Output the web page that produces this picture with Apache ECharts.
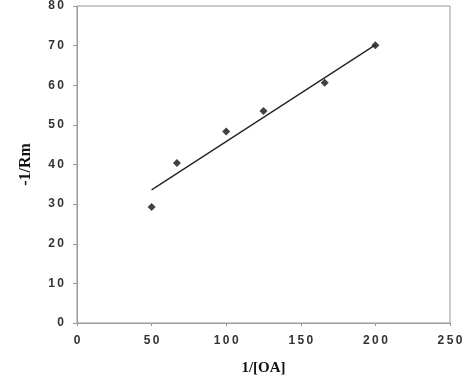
<!DOCTYPE html>
<html>
<head>
<meta charset="utf-8">
<script src="https://cdn.jsdelivr.net/npm/echarts@6/dist/echarts.min.js"></script>
<style>
html,body{margin:0;padding:0;background:#fff;}
#c{width:474px;height:385px;}
</style>
</head>
<body>
<div id="c"></div>
<script>
// Data
var xValues = [50, 67, 100, 125, 166, 200];
var yValues = [29.3, 40.4, 48.3, 53.5, 60.6, 70.1];
var trendX = [50, 200];
var trendY = [33.6, 70.2];
var xTicks = [0, 50, 100, 150, 200, 250];
var yTicks = [0, 10, 20, 30, 40, 50, 60, 70, 80];

var points = xValues.map(function (x, i) { return [x, yValues[i]]; });
var trend = trendX.map(function (x, i) { return [x, trendY[i]]; });

var chart = echarts.init(document.getElementById('c'), null, {renderer: 'canvas'});
var axisLabelStyle = {
  color: '#333',
  fontFamily: 'Liberation Sans, Arial, sans-serif',
  fontWeight: 'bold',
  fontSize: 12
};
chart.setOption({
  animation: false,
  backgroundColor: '#fff',
  grid: {left: 77, right: 24, top: 6, bottom: 62, show: true, borderColor: '#999', borderWidth: 1},
  xAxis: {
    type: 'value', min: 0, max: 250, interval: 50,
    axisLine: {show: true, onZero: false, lineStyle: {color: '#999'}},
    axisTick: {show: true, length: 3, inside: false, lineStyle: {color: '#999'}},
    splitLine: {show: false},
    axisLabel: Object.assign({margin: 12, formatter: function (v) { return String(v).split('').join('\u2009'); }}, axisLabelStyle),
    name: '1/[OA]', nameLocation: 'middle', nameGap: 38,
    nameTextStyle: {fontFamily: 'Liberation Serif, Times New Roman, serif', fontWeight: 'bold', fontSize: 15, color: '#111'}
  },
  yAxis: {
    type: 'value', min: 0, max: 80, interval: 10,
    axisLine: {show: true, onZero: false, lineStyle: {color: '#999'}},
    axisTick: {show: true, length: 4, inside: false, lineStyle: {color: '#999'}},
    splitLine: {show: false},
    axisLabel: Object.assign({margin: 13, formatter: function (v) { return String(v).split('').join('\u2009'); }}, axisLabelStyle),
    name: '-1/Rm', nameLocation: 'middle', nameGap: 43, nameRotate: 90,
    nameTextStyle: {fontFamily: 'Liberation Serif, Times New Roman, serif', fontWeight: 'bold', fontSize: 16, color: '#111'}
  },
  series: [
    {
      type: 'line', data: trend, symbol: 'none', silent: true,
      lineStyle: {color: '#222', width: 1.3}
    },
    {
      type: 'scatter', data: points, symbol: 'diamond', symbolSize: 8,
      itemStyle: {color: '#111'}
    }
  ]
});
</script>
</body>
</html>
